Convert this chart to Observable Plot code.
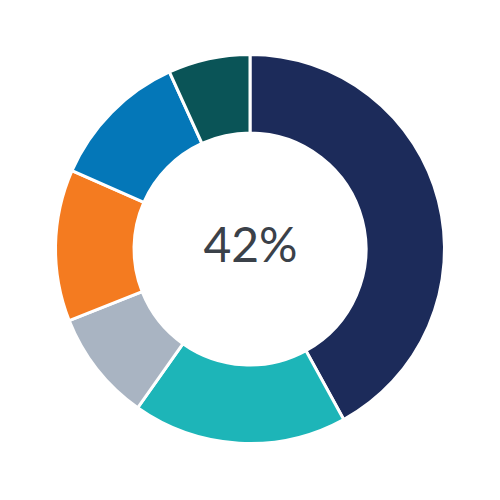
<!DOCTYPE html>
<html><head><meta charset="utf-8">
<script src="https://cdn.jsdelivr.net/npm/d3@7"></script>
<script src="https://cdn.jsdelivr.net/npm/@observablehq/plot@0.6"></script>
<style>body{margin:0;background:#fff}</style>
</head><body><div id="chart"></div>
<script>
// Data (clockwise from 12 o'clock)
const categories = ["Segment A", "Segment B", "Segment C", "Segment D", "Segment E", "Segment F"];
const values = [42, 17.8, 9.2, 12.6, 11.6, 6.8];
const colors = ["#1c2b5a", "#1db5b8", "#a9b4c2", "#f47b20", "#0477b8", "#0a5457"];
const centerLabel = "42%";

const rows = categories.map((c, i) => ({category: c, value: values[i]}));
const arcs = d3.pie().sort(null).value(d => d.value)(rows);
const colorScale = d3.scaleOrdinal(categories, colors);

const donut = (index, scales) => {
  const cx = scales.x(0), cy = scales.y(0);
  const ro = scales.x(0.778) - cx;
  const ri = scales.x(0.464) - cx;
  const arc = d3.arc().innerRadius(ri).outerRadius(ro);
  const g = d3.create("svg:g").attr("transform", `translate(${cx},${cy})`);
  g.selectAll("path").data(arcs).join("path")
    .attr("d", arc)
    .attr("fill", d => colorScale(d.data.category))
    .attr("stroke", "white")
    .attr("stroke-width", 3)
    .attr("stroke-linejoin", "miter");
  return g.node();
};

const chart = Plot.plot({
  width: 500,
  height: 500,
  margin: 0,
  x: {domain: [-1, 1], axis: null},
  y: {domain: [-1.004, 0.996], axis: null},
  marks: [
    donut,
    Plot.text([centerLabel], {
      x: () => 0, y: () => 0, text: d => d,
      fontSize: 48, fontWeight: 400, fontFamily: "Lato, sans-serif",
      fill: "#3b4149", dy: -3
    })
  ]
});
document.getElementById("chart").append(chart);
</script>
</body></html>
